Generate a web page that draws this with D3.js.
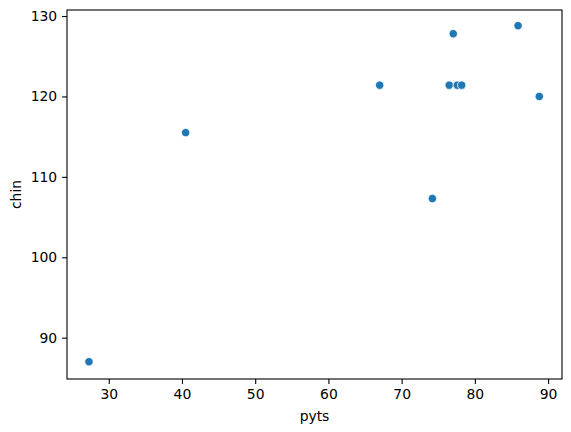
<!DOCTYPE html>
<html><head><meta charset="utf-8">
<script src="https://cdn.jsdelivr.net/npm/d3@7"></script>
<style>body{margin:0;background:#fff}text{font-family:"DejaVu Sans",sans-serif}</style>
</head><body><svg id="c" width="571" height="432"></svg>
<script>
var pyts = [27.3, 40.5, 67.0, 74.2, 76.5, 77.05, 77.6, 78.2, 85.9, 88.8];
var chin = [87.0, 115.5, 121.4, 107.3, 121.4, 127.8, 121.4, 121.4, 128.8, 120.0];
var xTicks = [30, 40, 50, 60, 70, 80, 90];
var yTicks = [90, 100, 110, 120, 130];

var mLeft = 67, mRight = 562, mTop = 10, mBottom = 379;
var svg = d3.select('#c');
var x = d3.scaleLinear().domain([24.3, 91.9]).range([mLeft, mRight]);
var y = d3.scaleLinear().domain([84.86, 130.75]).range([mBottom, mTop]);

svg.append('g').attr('transform', 'translate(0,' + mBottom + ')')
    .call(d3.axisBottom(x).tickValues(xTicks).tickSize(4.9).tickPadding(4.9).tickSizeOuter(0));
svg.append('g').attr('transform', 'translate(' + mLeft + ',0)')
    .call(d3.axisLeft(y).tickValues(yTicks).tickSize(4.9).tickPadding(4.9).tickSizeOuter(0));
svg.selectAll('.tick text').attr('font-size', 13.9).attr('fill', '#000').style('font-family', 'DejaVu Sans');
svg.selectAll('.tick line').attr('stroke-width', 1.1);
svg.selectAll('.domain').remove();
svg.append('rect').attr('x', mLeft).attr('y', mTop).attr('width', mRight - mLeft).attr('height', mBottom - mTop)
    .attr('fill', 'none').attr('stroke', '#000').attr('stroke-width', 1.1);

svg.selectAll('circle.pt').data(pyts).enter().append('circle').attr('class', 'pt')
    .attr('cx', function(d){ return x(d); })
    .attr('cy', function(d, i){ return y(chin[i]); })
    .attr('r', 4.2).attr('fill', '#1f77b4').attr('stroke', '#fff').attr('stroke-width', 0.8);

svg.append('text').attr('x', (mLeft + mRight) / 2).attr('y', 421).attr('text-anchor', 'middle')
    .attr('font-size', 13.9).text('pyts');
svg.append('text').attr('transform', 'translate(21,' + (mTop + mBottom) / 2 + ') rotate(-90)')
    .attr('text-anchor', 'middle').attr('font-size', 13.9).text('chin');
</script></body></html>
